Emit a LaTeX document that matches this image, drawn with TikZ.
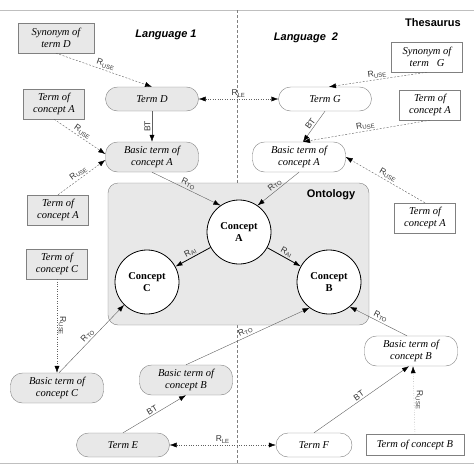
\documentclass[tikz,border=0pt]{standalone}
\usepackage{fontspec}
\setmainfont{Liberation Serif}
\setsansfont{Liberation Sans}
\usetikzlibrary{arrows.meta}
\newcommand{\Rsub}[1]{R\textsubscript{#1}}

\begin{document}
\begin{tikzpicture}[x=1pt, y=-1pt,
    >={Latex[length=7pt,width=5pt,color=black]},
    term/.style={draw=gray, fill=white, rounded corners=12pt, minimum width=93pt, minimum height=24pt,
      align=center, font=\fontsize{10.5}{12.5}\selectfont\itshape, inner sep=2pt},
    lterm/.style={term, fill=gray!18},
    syn/.style={draw=gray, fill=white, minimum height=30pt, align=center,
      font=\fontsize{10.5}{12.5}\selectfont\itshape, inner sep=2pt},
    lsyn/.style={syn, fill=gray!18},
    concept/.style={circle, draw, thick, fill=white, minimum size=64pt, align=center,
      font=\fontsize{10.5}{12.5}\selectfont\bfseries, inner sep=0pt},
    head/.style={font=\fontsize{11}{13}\selectfont\sffamily\bfseries},
    lang/.style={font=\fontsize{11}{13}\selectfont\sffamily\bfseries\itshape},
    lab/.style={font=\fontsize{8.5}{9}\selectfont\sffamily, text=black!80, sloped, above, inner sep=1.5pt},
    use/.style={gray!75!black, dash pattern=on 2pt off 1.5pt},
    le/.style={gray!75!black, dotted},
    tie/.style={gray!75!black}
  ]
     \useasboundingbox (0,0) rectangle (474,474);
     \draw [gray!50] (0,10) -- (474,10);
     \draw [gray!50] (0,463) -- (474,463);
     \draw [gray, dash pattern=on 3pt off 2pt] (237,10) -- (237,463);

     % ontology
     \node [draw=gray, fill=gray!18, rounded corners=10pt, minimum width=261pt, minimum height=142pt] (Onto) at (238.5,254) {};
     \node [head] at (331,195) {Ontology};
     \node [concept] (CA) at (239,232) {Concept\\A};
     \node [concept] (CC) at (147,282) {Concept\\C};
     \node [concept] (CB) at (329,282) {Concept\\B};

     % language 1
     \node [lang] at (166,35) {Language 1};
     \node [lsyn, minimum width=76pt] (SynD) at (56,38) {Synonym of\\term D};
     \node [lterm] (TD) at (152,99) {Term D};
     \node [lsyn, minimum width=61pt] (TcA1) at (54,104) {Term of\\concept A};
     \node [lterm, minimum height=30pt] (BtAL) at (152,157) {Basic term of\\concept A};
     \node [lsyn, minimum width=61pt] (TcA2) at (58,210) {Term of\\concept A};
     \node [lsyn, minimum width=61pt] (TcC) at (57,264) {Term of\\concept C};
     \node [lterm, minimum height=30pt] (BtC) at (57,388) {Basic term of\\concept C};
     \node [lterm, minimum height=30pt] (BtBL) at (186,380) {Basic term of\\concept B};
     \node [lterm] (TE) at (123,445) {Term E};

     % language 2
     \node [head] at (433,23) {Thesaurus};
     \node [lang] at (306,38) {Language\ \ 2};
     \node [syn, minimum width=71pt] (SynG) at (427,57) {Synonym of\\term \ \ G};
     \node [term] (TG) at (325,99) {Term G};
     \node [syn, minimum width=61pt] (TcA3) at (430,105) {Term of\\concept A};
     \node [term, minimum height=30pt] (BtAR) at (299,157) {Basic term of\\concept A};
     \node [syn, minimum width=61pt] (TcA4) at (425,218) {Term of\\concept A};
     \node [term, minimum height=30pt] (BtBR) at (411,351) {Basic term of\\concept B};
     \node [term, minimum width=76pt] (TF) at (314,445) {Term F};
     \node [syn, minimum width=98pt, minimum height=21pt] (TcB) at (415,445) {Term of concept B};

     \draw [->, use] (SynD.south) -- node [lab] {\Rsub{USE}} (TD.north);
     \draw [<->, le] (TD) -- node [lab] {\Rsub{LE}} (TG);
     \draw [<-, tie] (BtAL) -- node [lab] {BT} (TD);
     \draw [->, use] (TcA1.south) -- node [lab] {\Rsub{USE}} ([yshift=3pt]BtAL.west);
     \draw [->, use] (TcA2.north) -- node [lab] {\Rsub{USE}} ([yshift=-3pt]BtAL.west);
     \draw [->, tie] (BtAL.south) -- node [lab] {\Rsub{TO}} (CA.125);
     \draw [->, thick] (CA) -- node [lab] {\Rsub{AI}} (CC);
     \draw [->, thick] (CA) -- node [lab] {\Rsub{AI}} (CB);
     \draw [->, le] (TcC.south) -- node [lab] {\Rsub{USE}} (BtC.north);
     \draw [->, tie] ([xshift=2pt]BtC.north) -- node [lab] {\Rsub{TO}} (CC.225);
     \draw [->, tie] (BtBL.north) -- node [lab] {\Rsub{TO}} (CB.233);
     \draw [->, tie] (TE.north) -- node [lab] {BT} (BtBL.south);
     \draw [<->, le] (TE) -- node [lab] {\Rsub{LE}} (TF);

     \draw [->, use] (SynG.south) -- node [lab] {\Rsub{USE}} ([xshift=4pt]TG.north);
     \draw [->, tie] (TG.south) -- node [lab] {BT} ([xshift=4pt]BtAR.north);
     \draw [->, use] (TcA3.south) -- node [lab] {\Rsub{USE}} ([xshift=4pt]BtAR.north);
     \draw [->, tie] (BtAR.south) -- node [lab] {\Rsub{TO}} (CA.55);
     \draw [->, use] (TcA4.north) -- node [lab] {\Rsub{USE}} (BtAR.east);
     \draw [->, tie] ([xshift=-4pt]BtBR.north) -- node [lab] {\Rsub{TO}} (CB.-50);
     \draw [->, tie] (TF.north) -- node [lab] {BT} ([xshift=-2pt]BtBR.south);
     \draw [->, le] (TcB.north) -- node [lab] {\Rsub{USE}} ([xshift=2pt]BtBR.south);
\end{tikzpicture}
\end{document}
